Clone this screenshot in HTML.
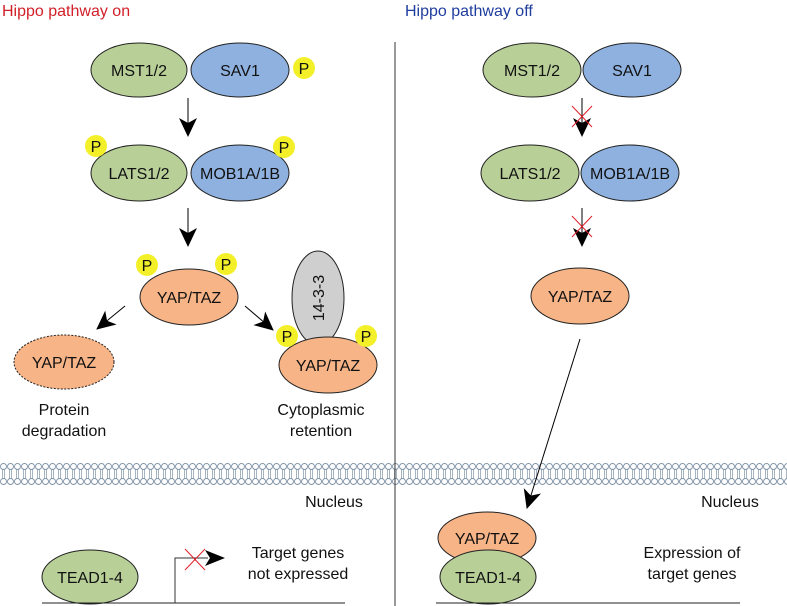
<!DOCTYPE html>
<html><head><style>
html,body{margin:0;padding:0;background:#fff;}
svg{display:block;font-family:"Liberation Sans",sans-serif;}
</style></head><body>
<svg width="787" height="606" viewBox="0 0 787 606" xmlns="http://www.w3.org/2000/svg">
<defs>
<pattern id="mem" x="0" y="463" width="7" height="22" patternUnits="userSpaceOnUse">
<circle cx="3.5" cy="3.5" r="3" fill="none" stroke="#7f93a6" stroke-width="0.9"/>
<circle cx="3.5" cy="18.5" r="3" fill="none" stroke="#7f93a6" stroke-width="0.9"/>
<line x1="2.5" y1="6.5" x2="2.5" y2="15.5" stroke="#7f93a6" stroke-width="0.7"/>
<line x1="4.5" y1="6.5" x2="4.5" y2="15.5" stroke="#7f93a6" stroke-width="0.7"/>
</pattern>
<marker id="ahb" markerWidth="20" markerHeight="20" refX="18" refY="10" orient="auto" markerUnits="userSpaceOnUse" viewBox="0 0 20 20">
<path d="M0,1 L19,10 L0,19 L5,10 z" fill="#000"/>
</marker>
</defs>
<rect x="0" y="463" width="787" height="22" fill="url(#mem)"/>
<line x1="395" y1="42" x2="395" y2="606" stroke="#333" stroke-width="1"/>
<text x="2" y="16" font-size="16" fill="#d2202a">Hippo pathway on</text>
<text x="405" y="16" font-size="16" fill="#1f3d9e">Hippo pathway off</text>
<g stroke="#222" stroke-width="1" font-size="15" text-anchor="middle">
<ellipse cx="139" cy="70" rx="48" ry="27" fill="#b8cf98"/>
<ellipse cx="240" cy="70" rx="49" ry="27" fill="#8eb1df"/>
<ellipse cx="139" cy="173" rx="48" ry="28" fill="#b8cf98"/>
<ellipse cx="240" cy="173" rx="49" ry="28" fill="#8eb1df"/>
<ellipse cx="189" cy="297" rx="49" ry="28" fill="#f6b487"/>
<ellipse cx="64" cy="362" rx="50" ry="27" fill="#f6b487" stroke-dasharray="2,1.5"/>
<ellipse cx="318" cy="298" rx="26" ry="47" fill="#cfcfcf"/>
<ellipse cx="328" cy="365" rx="49" ry="28" fill="#f6b487"/>
<ellipse cx="532" cy="70" rx="49" ry="27" fill="#b8cf98"/>
<ellipse cx="632" cy="70" rx="49" ry="27" fill="#8eb1df"/>
<ellipse cx="530" cy="173" rx="49" ry="28" fill="#b8cf98"/>
<ellipse cx="630" cy="173" rx="49" ry="28" fill="#8eb1df"/>
<ellipse cx="580" cy="296" rx="49" ry="28" fill="#f6b487"/>
<ellipse cx="487" cy="538" rx="49" ry="26" fill="#f6b487"/>
<ellipse cx="488" cy="577" rx="48" ry="27" fill="#b8cf98"/>
<ellipse cx="90" cy="577" rx="48" ry="27" fill="#b8cf98"/>
</g>
<g fill="#f3f02a">
<circle cx="304" cy="68" r="11"/><circle cx="96" cy="146" r="11"/><circle cx="284" cy="147" r="11"/>
<circle cx="147" cy="265" r="11"/><circle cx="226" cy="264" r="11"/>
<circle cx="287" cy="336" r="11"/><circle cx="366" cy="336" r="11"/>
</g>
<g font-size="16" text-anchor="middle" fill="#111">
<text x="304" y="74">P</text><text x="96" y="152">P</text><text x="284" y="153">P</text>
<text x="147" y="271">P</text><text x="226" y="270">P</text>
<text x="287" y="342">P</text><text x="366" y="342">P</text>
<text x="139" y="76">MST1/2</text><text x="240" y="76">SAV1</text>
<text x="139" y="179">LATS1/2</text><text x="240" y="179">MOB1A/1B</text>
<text x="189" y="303">YAP/TAZ</text><text x="64" y="368">YAP/TAZ</text>
<text x="328" y="371">YAP/TAZ</text>
<text transform="translate(324,298) rotate(-90)">14-3-3</text>
<text x="532" y="76">MST1/2</text><text x="632" y="76">SAV1</text>
<text x="530" y="179">LATS1/2</text><text x="630" y="179">MOB1A/1B</text>
<text x="580" y="302">YAP/TAZ</text>
<text x="487" y="544">YAP/TAZ</text><text x="488" y="583">TEAD1-4</text>
<text x="90" y="583">TEAD1-4</text>
<text x="64" y="415">Protein</text><text x="64" y="436">degradation</text>
<text x="321" y="415">Cytoplasmic</text><text x="321" y="436">retention</text>
<text x="334" y="507">Nucleus</text><text x="730" y="507">Nucleus</text>
<text x="298" y="558">Target genes</text><text x="298" y="579">not expressed</text>
<text x="692" y="558">Expression of</text><text x="692" y="579">target genes</text>
</g>
<g stroke="#000" stroke-width="1" fill="none">
<line x1="188" y1="98" x2="188" y2="136" marker-end="url(#ahb)"/>
<line x1="188" y1="208" x2="188" y2="246" marker-end="url(#ahb)"/>
<line x1="125" y1="306" x2="97" y2="329" marker-end="url(#ahb)"/>
<line x1="245" y1="306" x2="273" y2="330" marker-end="url(#ahb)"/>
<line x1="582" y1="98" x2="582" y2="136" marker-end="url(#ahb)"/>
<line x1="582" y1="208" x2="582" y2="246" marker-end="url(#ahb)"/>
<line x1="580" y1="339" x2="527" y2="508" marker-end="url(#ahb)"/>
<line x1="42" y1="603" x2="345" y2="603" stroke="#222"/>
<line x1="436" y1="603" x2="740" y2="603" stroke="#222"/>
<polyline points="175,603 175,558 208,558" stroke="#333"/>
</g>
<path d="M205,550 L225,558 L205,566 L210,558 z" fill="#000"/>
<g stroke="#e0202a" stroke-width="1">
<line x1="572" y1="106" x2="592" y2="127"/><line x1="592" y1="106" x2="572" y2="127"/>
<line x1="572" y1="216" x2="592" y2="237"/><line x1="592" y1="216" x2="572" y2="237"/>
<line x1="185" y1="549" x2="205" y2="570"/><line x1="205" y1="549" x2="185" y2="570"/>
</g>
</svg>
</body></html>
